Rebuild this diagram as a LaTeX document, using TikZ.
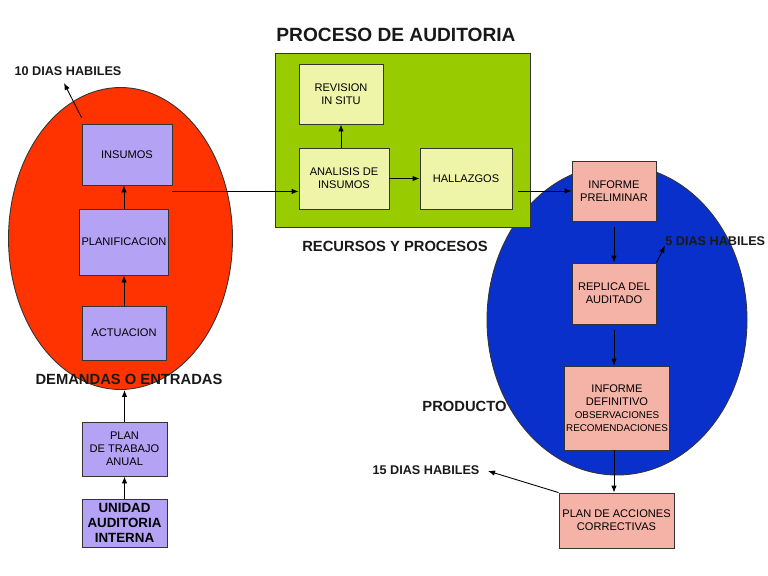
\documentclass[tikz,border=0pt]{standalone}
\usepackage{fontspec}
\setmainfont{Liberation Sans}
\usetikzlibrary{shapes.geometric, arrows.meta, positioning, calc}
\definecolor{lavanda}{HTML}{B4A2F5}
\definecolor{rojizo}{HTML}{FF3300}
\definecolor{verde}{HTML}{99CC00}
\definecolor{crema}{HTML}{EEF5A8}
\definecolor{azul}{HTML}{0A30CC}
\definecolor{salmon}{HTML}{F5B2A6}
\tikzset{
  block/.style  = {draw=black!80, line width=0.5pt, align=center, font=\fontsize{6.3}{7.4}\selectfont,
                   inner sep=1pt},
  entrada/.style = {block, fill=lavanda},
  tarea/.style   = {block, fill=crema},
  salida/.style  = {block, fill=salmon},
  zona/.style    = {draw=black!80, line width=0.5pt, ellipse, inner sep=0pt},
  rotulo/.style  = {font=\fontsize{8.4}{10}\selectfont\bfseries, text=black!90, inner sep=0pt},
  plazo/.style   = {rotulo, font=\fontsize{7.2}{8}\selectfont\bfseries},
  flow/.style    = {-{Latex[length=1.4mm, width=1.1mm]}, line width=0.5pt, draw=black}
}

\begin{document}
\begin{tikzpicture}
\useasboundingbox (0,0) rectangle (15.36,-11.52);

% Ellipses and process frame
\node[zona, fill=rojizo, minimum width=4.48cm, minimum height=6.04cm] at (2.41,-4.77) (demandas) {};
\node[zona, fill=azul, minimum width=5.20cm, minimum height=6.20cm] at (12.34,-6.40) (producto) {};
\node[draw=black!80, line width=0.5pt, fill=verde, minimum width=5.10cm, minimum height=3.48cm,
      inner sep=0pt] at (8.05,-2.80) (proceso) {};

% Titles and labels
\node[rotulo, font=\fontsize{10.9}{12}\selectfont\bfseries] at (7.92,-0.70) (titulo) {PROCESO DE AUDITORIA};
\node[plazo] at (1.36,-1.42) (diez) {10 DIAS HABILES};
\node[rotulo] at (2.58,-7.58) (entradas) {DEMANDAS O ENTRADAS};
\node[rotulo] at (7.90,-4.92) (recursos) {RECURSOS Y PROCESOS};
\node[plazo, anchor=west] at (13.30,-4.82) (cinco) {5 DIAS HABILES};
\node[rotulo] at (9.29,-8.12) (productolbl) {PRODUCTO};
\node[plazo] at (8.52,-9.40) (quince) {15 DIAS HABILES};

% Demandas o entradas
\node[entrada, minimum width=1.80cm, minimum height=1.22cm] at (2.54,-3.09) (insumos) {INSUMOS};
\node[entrada, minimum width=1.68cm, minimum height=1.32cm] at (2.48,-4.84) (planif) {PLANIFICACION};
\node[entrada, minimum width=1.68cm, minimum height=1.08cm] at (2.48,-6.66) (actuacion) {ACTUACION};
\node[entrada, minimum width=1.70cm, minimum height=1.08cm] at (2.49,-8.98) (plantrabajo) {PLAN\\DE TRABAJO\\ANUAL};
\node[entrada, minimum width=1.70cm, minimum height=0.96cm,
      font=\fontsize{7.6}{8.6}\selectfont\bfseries] at (2.49,-10.46) (unidad) {UNIDAD\\AUDITORIA\\INTERNA};

% Recursos y procesos
\node[tarea, minimum width=1.68cm, minimum height=1.20cm] at (6.82,-1.88) (revision) {REVISION\\IN SITU};
\node[tarea, minimum width=1.80cm, minimum height=1.22cm] at (6.88,-3.57) (analisis) {ANALISIS DE\\INSUMOS};
\node[tarea, minimum width=1.84cm, minimum height=1.22cm] at (9.32,-3.57) (hallazgos) {HALLAZGOS};

% Producto
\node[salida, minimum width=1.68cm, minimum height=1.20cm] at (12.28,-3.82) (preliminar) {INFORME\\PRELIMINAR};
\node[salida, minimum width=1.68cm, minimum height=1.22cm] at (12.28,-5.87) (replica) {REPLICA DEL\\AUDITADO};
\node[salida, minimum width=2.04cm, minimum height=1.68cm] at (12.34,-8.16) (definitivo)
  {INFORME\\DEFINITIVO\\{\fontsize{5.6}{6.6}\selectfont OBSERVACIONES}\\{\fontsize{5.6}{6.6}\selectfont RECOMENDACIONES}};
\node[salida, minimum width=2.30cm, minimum height=1.10cm] at (12.33,-10.41) (acciones) {PLAN DE ACCIONES\\CORRECTIVAS};

% Free ends of the deadline arrows
\coordinate (diezfin) at (1.28,-1.66);
\coordinate (quincefin) at (9.76,-9.42);
\coordinate (salidains) at ($(insumos.south east)+(0,-0.12)$);

% Connectors
\draw[flow] (unidad) -- (plantrabajo);
\draw[flow] (plantrabajo) -- (plantrabajo |- demandas.south);
\draw[flow] (actuacion.north -| planif) -- (planif);
\draw[flow] (planif.north) -- (planif.north |- insumos.south);
\draw[flow] ($(insumos.north west)+(0,0.12)$) -- (diezfin);
\draw[flow] (salidains) -- (salidains -| analisis.west);
\draw[flow] (analisis.north -| revision) -- (revision);
\draw[flow] (analisis) -- (hallazgos);
\draw[flow, shorten <=0.12cm] (hallazgos.east |- preliminar.west) -- (preliminar.west);
\draw[flow, shorten <=0.12cm] (preliminar) -- (replica);
\draw[flow] (replica.north east) -- (cinco.south west);
\draw[flow, shorten <=0.12cm] (replica) -- (definitivo.north -| replica);
\draw[flow] (definitivo.south -| replica) -- (acciones.north -| replica);
\draw[flow] (acciones.north west) -- (quincefin);
\end{tikzpicture}
\end{document}
